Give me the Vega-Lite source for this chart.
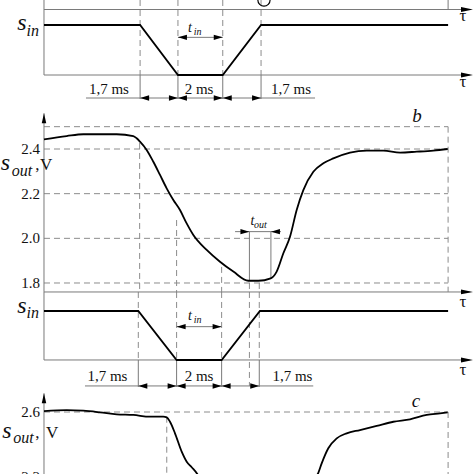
{
  "$schema": "https://vega.github.io/schema/vega-lite/v6.json",
  "width": 474,
  "height": 474,
  "autosize": "none",
  "padding": 0,
  "background": "white",
  "config": {
    "view": {"stroke": null},
    "text": {"font": "Liberation Serif", "color": "#111"}
  },
  "datasets": {
    "a": [
      {"part": "signal", "t": 0, "v": 1}, {"part": "signal", "t": 4.29, "v": 1}, {"part": "signal", "t": 5.98, "v": 0},
      {"part": "signal", "t": 7.98, "v": 0}, {"part": "signal", "t": 9.69, "v": 1}, {"part": "signal", "t": 18.04, "v": 1},
      {"part": "guide", "t": 4.29, "v": 1.5, "v2": 0}, {"part": "guide", "t": 5.98, "v": 1.5, "v2": 0},
      {"part": "guide", "t": 7.98, "v": 1.5, "v2": 0}, {"part": "guide", "t": 9.69, "v": 1.5, "v2": 0},
      {"part": "vline", "t": 0, "v": 1.5, "v2": 0}, {"part": "vline", "t": 18.04, "v": 1.5, "v2": 1.31},
      {"part": "vline", "t": 4.29, "v": 0, "v2": -0.48}, {"part": "vline", "t": 5.98, "v": 0, "v2": -0.48},
      {"part": "vline", "t": 7.98, "v": 0, "v2": -0.48}, {"part": "vline", "t": 9.69, "v": 0, "v2": -0.48},
      {"part": "hline", "t": 0, "t2": 19.0, "v": 1.31}, {"part": "hline", "t": 0, "t2": 19.0, "v": 0},
      {"part": "hline", "t": 1.875, "t2": 12.1, "v": -0.46}, {"part": "hline", "t": 5.98, "t2": 7.98, "v": 0.753},
      {"part": "tauarrow", "t": 19.15, "v": 1.31, "dir": "tau"}, {"part": "tauarrow", "t": 19.15, "v": 0, "dir": "tau"},
      {"part": "arrow", "t": 4.29, "v": -0.46, "dir": "left"}, {"part": "arrow", "t": 5.98, "v": -0.46, "dir": "right"},
      {"part": "arrow", "t": 5.98, "v": -0.46, "dir": "left"}, {"part": "arrow", "t": 7.98, "v": -0.46, "dir": "right"},
      {"part": "arrow", "t": 7.98, "v": -0.46, "dir": "left"}, {"part": "arrow", "t": 9.69, "v": -0.46, "dir": "right"},
      {"part": "arrow", "t": 5.98, "v": 0.753, "dir": "left"}, {"part": "arrow", "t": 7.98, "v": 0.753, "dir": "right"},
      {"part": "ring", "t": 9.82, "v": 1.5},
      {"part": "taulabel", "t": 18.7, "v": 1.08, "label": "τ"}, {"part": "taulabel", "t": 18.7, "v": -0.24, "label": "τ"},
      {"part": "dimlabel", "t": 2.9, "v": -0.37, "label": "1,7 ms"}, {"part": "dimlabel", "t": 6.92, "v": -0.37, "label": "2 ms"},
      {"part": "dimlabel", "t": 11.03, "v": -0.37, "label": "1,7 ms"},
      {"part": "sym", "t": -0.98, "v": 0.9, "label": "s"}, {"part": "sub", "t": -0.5, "v": 0.79, "label": "in"},
      {"part": "tsym", "t": 6.52, "v": 0.86, "label": "t"}, {"part": "tsub", "t": 6.86, "v": 0.8, "label": "in"}
    ],
    "b": [
      {"part": "curve", "t": 0, "v": 2.443}, {"part": "curve", "t": 1.012, "v": 2.458}, {"part": "curve", "t": 1.756, "v": 2.466},
      {"part": "curve", "t": 2.5, "v": 2.466}, {"part": "curve", "t": 3.244, "v": 2.466}, {"part": "curve", "t": 3.988, "v": 2.458},
      {"part": "curve", "t": 4.137, "v": 2.448}, {"part": "curve", "t": 4.286, "v": 2.433}, {"part": "curve", "t": 4.583, "v": 2.396},
      {"part": "curve", "t": 4.881, "v": 2.343}, {"part": "curve", "t": 5.179, "v": 2.284}, {"part": "curve", "t": 5.476, "v": 2.224},
      {"part": "curve", "t": 5.774, "v": 2.172}, {"part": "curve", "t": 6.071, "v": 2.127}, {"part": "curve", "t": 6.369, "v": 2.067},
      {"part": "curve", "t": 6.667, "v": 2.015}, {"part": "curve", "t": 7.262, "v": 1.948}, {"part": "curve", "t": 7.857, "v": 1.895},
      {"part": "curve", "t": 8.452, "v": 1.851}, {"part": "curve", "t": 9.122, "v": 1.81}, {"part": "curve", "t": 9.568, "v": 1.81},
      {"part": "curve", "t": 10.119, "v": 1.821}, {"part": "curve", "t": 10.387, "v": 1.851}, {"part": "curve", "t": 10.685, "v": 1.933},
      {"part": "curve", "t": 10.982, "v": 2.007}, {"part": "curve", "t": 11.28, "v": 2.127}, {"part": "curve", "t": 11.577, "v": 2.216},
      {"part": "curve", "t": 12.024, "v": 2.298}, {"part": "curve", "t": 12.47, "v": 2.336}, {"part": "curve", "t": 12.917, "v": 2.358},
      {"part": "curve", "t": 13.661, "v": 2.384}, {"part": "curve", "t": 14.405, "v": 2.393}, {"part": "curve", "t": 15.149, "v": 2.393},
      {"part": "curve", "t": 15.893, "v": 2.384}, {"part": "curve", "t": 16.637, "v": 2.388}, {"part": "curve", "t": 17.381, "v": 2.393},
      {"part": "curve", "t": 18.021, "v": 2.4},
      {"part": "grid", "t": 0, "t2": 18.04, "v": 2.5}, {"part": "grid", "t": 0, "t2": 18.04, "v": 2.4},
      {"part": "grid", "t": 0, "t2": 18.04, "v": 2.2}, {"part": "grid", "t": 0, "t2": 18.04, "v": 2.0},
      {"part": "grid", "t": 0, "t2": 18.04, "v": 1.8},
      {"part": "guide", "t": 4.27, "v": 2.427, "v2": 1.76}, {"part": "guide", "t": 5.92, "v": 2.082, "v2": 1.76},
      {"part": "guide", "t": 7.93, "v": 1.872, "v2": 1.76}, {"part": "guide", "t": 9.17, "v": 1.8, "v2": 1.76},
      {"part": "guide", "t": 9.61, "v": 1.8, "v2": 1.76}, {"part": "guide", "t": 18.04, "v": 2.5, "v2": 1.76},
      {"part": "vline", "t": 0, "v": 2.56, "v2": 1.76}, {"part": "vline", "t": 9.17, "v": 2.03, "v2": 1.811},
      {"part": "vline", "t": 10.13, "v": 2.03, "v2": 1.822},
      {"part": "hline", "t": 8.53, "t2": 10.58, "v": 2.03},
      {"part": "arrow", "t": 9.17, "v": 2.03, "dir": "right"}, {"part": "arrow", "t": 10.13, "v": 2.03, "dir": "left"},
      {"part": "axisarrow", "t": 0, "v": 2.56, "dir": "up"},
      {"part": "tick", "t": -0.18, "v": 2.4, "label": "2.4"}, {"part": "tick", "t": -0.18, "v": 2.2, "label": "2.2"},
      {"part": "tick", "t": -0.18, "v": 2.0, "label": "2.0"}, {"part": "tick", "t": -0.18, "v": 1.8, "label": "1.8"},
      {"part": "letter", "t": 16.65, "v": 2.521, "label": "b"},
      {"part": "sym", "t": -1.72, "v": 2.308, "label": "s"}, {"part": "sub", "t": -0.98, "v": 2.277, "label": "out"},
      {"part": "unit", "t": -0.3, "v": 2.308, "label": ","}, {"part": "unit", "t": 0.1, "v": 2.308, "label": "V"},
      {"part": "tsym", "t": 9.31, "v": 2.06, "label": "t"}, {"part": "tsub", "t": 9.66, "v": 2.046, "label": "out"}
    ],
    "m": [
      {"part": "signal", "t": 0, "v": 1}, {"part": "signal", "t": 4.21, "v": 1}, {"part": "signal", "t": 5.92, "v": 0},
      {"part": "signal", "t": 7.93, "v": 0}, {"part": "signal", "t": 9.64, "v": 1}, {"part": "signal", "t": 18.04, "v": 1},
      {"part": "guide", "t": 4.21, "v": 1.388, "v2": 0}, {"part": "guide", "t": 5.92, "v": 1.388, "v2": 0},
      {"part": "guide", "t": 7.93, "v": 1.388, "v2": 0}, {"part": "guide", "t": 9.17, "v": 1.388, "v2": -0.53},
      {"part": "guide", "t": 9.61, "v": 1.388, "v2": 0},
      {"part": "vline", "t": 0, "v": 1.388, "v2": 0}, {"part": "vline", "t": 4.21, "v": 0, "v2": -0.55},
      {"part": "vline", "t": 5.92, "v": 0, "v2": -0.55}, {"part": "vline", "t": 7.93, "v": 0, "v2": -0.55},
      {"part": "vline", "t": 9.61, "v": 0, "v2": -0.55},
      {"part": "hline", "t": 0, "t2": 19.0, "v": 1.388}, {"part": "hline", "t": 0, "t2": 19.0, "v": 0},
      {"part": "hline", "t": 1.83, "t2": 12.02, "v": -0.53}, {"part": "hline", "t": 5.92, "t2": 7.93, "v": 0.68},
      {"part": "tauarrow", "t": 19.15, "v": 1.388, "dir": "tau"}, {"part": "tauarrow", "t": 19.15, "v": 0, "dir": "tau"},
      {"part": "arrow", "t": 4.21, "v": -0.53, "dir": "left"}, {"part": "arrow", "t": 5.92, "v": -0.53, "dir": "right"},
      {"part": "arrow", "t": 5.92, "v": -0.53, "dir": "left"}, {"part": "arrow", "t": 7.93, "v": -0.53, "dir": "right"},
      {"part": "arrow", "t": 7.93, "v": -0.53, "dir": "left"}, {"part": "arrow", "t": 9.61, "v": -0.53, "dir": "right"},
      {"part": "arrow", "t": 5.92, "v": 0.68, "dir": "left"}, {"part": "arrow", "t": 7.93, "v": 0.68, "dir": "right"},
      {"part": "taulabel", "t": 18.7, "v": 1.08, "label": "τ"}, {"part": "taulabel", "t": 18.7, "v": -0.306, "label": "τ"},
      {"part": "dimlabel", "t": 2.83, "v": -0.439, "label": "1,7 ms"}, {"part": "dimlabel", "t": 6.92, "v": -0.439, "label": "2 ms"},
      {"part": "dimlabel", "t": 11.09, "v": -0.439, "label": "1,7 ms"},
      {"part": "sym", "t": -0.98, "v": 0.96, "label": "s"}, {"part": "sub", "t": -0.5, "v": 0.857, "label": "in"},
      {"part": "tsym", "t": 6.52, "v": 0.816, "label": "t"}, {"part": "tsub", "t": 6.86, "v": 0.755, "label": "in"}
    ],
    "c": [
      {"part": "curve", "seg": 1, "t": 0, "v": 2.606}, {"part": "curve", "seg": 1, "t": 1.013, "v": 2.612},
      {"part": "curve", "seg": 1, "t": 1.754, "v": 2.608}, {"part": "curve", "seg": 1, "t": 2.5, "v": 2.598},
      {"part": "curve", "seg": 1, "t": 3.246, "v": 2.586}, {"part": "curve", "seg": 1, "t": 3.987, "v": 2.582},
      {"part": "curve", "seg": 1, "t": 4.732, "v": 2.571}, {"part": "curve", "seg": 1, "t": 5.326, "v": 2.571},
      {"part": "curve", "seg": 1, "t": 5.478, "v": 2.567}, {"part": "curve", "seg": 1, "t": 5.625, "v": 2.54},
      {"part": "curve", "seg": 1, "t": 5.848, "v": 2.469}, {"part": "curve", "seg": 1, "t": 6.147, "v": 2.356},
      {"part": "curve", "seg": 1, "t": 6.371, "v": 2.294}, {"part": "curve", "seg": 1, "t": 6.594, "v": 2.26},
      {"part": "curve", "seg": 1, "t": 6.844, "v": 2.218}, {"part": "curve", "seg": 1, "t": 6.92, "v": 2.2},
      {"part": "curve", "seg": 2, "t": 12.14, "v": 2.2}, {"part": "curve", "seg": 2, "t": 12.246, "v": 2.226},
      {"part": "curve", "seg": 2, "t": 12.397, "v": 2.284}, {"part": "curve", "seg": 2, "t": 12.692, "v": 2.377},
      {"part": "curve", "seg": 2, "t": 13.067, "v": 2.438}, {"part": "curve", "seg": 2, "t": 13.513, "v": 2.469},
      {"part": "curve", "seg": 2, "t": 14.107, "v": 2.489}, {"part": "curve", "seg": 2, "t": 14.853, "v": 2.514},
      {"part": "curve", "seg": 2, "t": 15.594, "v": 2.54}, {"part": "curve", "seg": 2, "t": 16.339, "v": 2.555},
      {"part": "curve", "seg": 2, "t": 17.085, "v": 2.582}, {"part": "curve", "seg": 2, "t": 17.679, "v": 2.592},
      {"part": "curve", "seg": 2, "t": 18.021, "v": 2.598},
      {"part": "grid", "t": 0, "t2": 18.04, "v": 2.6},
      {"part": "guide", "t": 5.48, "v": 2.571, "v2": 2.1}, {"part": "guide", "t": 18.04, "v": 2.6, "v2": 2.1},
      {"part": "vline", "t": 0, "v": 2.715, "v2": 2.1},
      {"part": "axisarrow", "t": 0, "v": 2.715, "dir": "up"},
      {"part": "tick", "t": -0.18, "v": 2.6, "label": "2.6"}, {"part": "tick", "t": -0.18, "v": 2.2, "label": "2.2"},
      {"part": "letter", "t": 16.6, "v": 2.633, "label": "c"},
      {"part": "sym", "t": -1.65, "v": 2.44, "label": "s"}, {"part": "sub", "t": -0.92, "v": 2.409, "label": "out"},
      {"part": "unit", "t": -0.3, "v": 2.44, "label": ","}, {"part": "unit", "t": 0.36, "v": 2.442, "label": "V"}
    ]
  },
  "encoding": {
    "x": {"field": "t", "type": "quantitative", "scale": {"domain": [-1.964, 19.196], "nice": false, "zero": false}, "axis": null}
  },
  "layer": [
    {
      "data": {"name": "a"},
      "encoding": {"y": {"field": "v", "type": "quantitative", "scale": {"domain": [-7.98, 1.5], "nice": false, "zero": false}, "axis": null}},
      "layer": [
        {"transform": [{"filter": "datum.part === 'guide'"}], "mark": {"type": "rule", "color": "#8c8c8c", "strokeWidth": 1, "strokeDash": [6, 4]}, "encoding": {"y2": {"field": "v2"}}},
        {"transform": [{"filter": "datum.part === 'vline'"}], "mark": {"type": "rule", "color": "#7a7a7a", "strokeWidth": 1}, "encoding": {"y2": {"field": "v2"}}},
        {"transform": [{"filter": "datum.part === 'hline'"}], "mark": {"type": "rule", "color": "#7a7a7a", "strokeWidth": 1}, "encoding": {"x2": {"field": "t2"}}},
        {"transform": [{"filter": "datum.part === 'signal'"}], "mark": {"type": "line", "color": "#000", "strokeWidth": 1.8}, "encoding": {}},
        {"transform": [{"filter": "datum.part === 'arrow'"}], "mark": {"type": "point", "filled": true, "opacity": 1, "color": "#000", "size": 81},
         "encoding": {"shape": {"field": "dir", "type": "nominal", "legend": null, "scale": {"domain": ["left", "right", "up", "tau"], "range": ["M0,0L2,-0.6L2,0.6Z", "M0,0L-2,-0.6L-2,0.6Z", "M0,0L-0.45,2L0.45,2Z", "M0,0L-2,-0.4L-2,0.4Z"]}}}},
        {"transform": [{"filter": "datum.part === 'tauarrow'"}], "mark": {"type": "point", "filled": true, "opacity": 1, "color": "#000", "size": 144},
         "encoding": {"shape": {"field": "dir", "type": "nominal", "legend": null, "scale": {"domain": ["left", "right", "up", "tau"], "range": ["M0,0L2,-0.6L2,0.6Z", "M0,0L-2,-0.6L-2,0.6Z", "M0,0L-0.45,2L0.45,2Z", "M0,0L-2,-0.4L-2,0.4Z"]}}}},
        {"transform": [{"filter": "datum.part === 'ring'"}], "mark": {"type": "point", "shape": "circle", "filled": false, "opacity": 1, "color": "#000", "strokeWidth": 1.2, "size": 150}},
        {"transform": [{"filter": "datum.part === 'taulabel'"}], "mark": {"type": "text", "font": "Liberation Serif", "fontSize": 17, "align": "center", "baseline": "alphabetic"}, "encoding": {"text": {"field": "label"}}},
        {"transform": [{"filter": "datum.part === 'dimlabel'"}], "mark": {"type": "text", "font": "Liberation Serif", "fontSize": 15, "align": "center", "baseline": "alphabetic"}, "encoding": {"text": {"field": "label"}}},
        {"transform": [{"filter": "datum.part === 'sym'"}], "mark": {"type": "text", "font": "Liberation Serif", "fontSize": 24, "fontStyle": "italic", "align": "center", "baseline": "alphabetic"}, "encoding": {"text": {"field": "label"}}},
        {"transform": [{"filter": "datum.part === 'sub'"}], "mark": {"type": "text", "font": "Liberation Serif", "fontSize": 16, "fontStyle": "italic", "align": "center", "baseline": "alphabetic"}, "encoding": {"text": {"field": "label"}}},
        {"transform": [{"filter": "datum.part === 'tsym'"}], "mark": {"type": "text", "font": "Liberation Serif", "fontSize": 14, "fontStyle": "italic", "align": "center", "baseline": "alphabetic"}, "encoding": {"text": {"field": "label"}}},
        {"transform": [{"filter": "datum.part === 'tsub'"}], "mark": {"type": "text", "font": "Liberation Serif", "fontSize": 10, "fontStyle": "italic", "align": "center", "baseline": "alphabetic"}, "encoding": {"text": {"field": "label"}}}
      ]
    },
    {
      "data": {"name": "b"},
      "encoding": {"y": {"field": "v", "type": "quantitative", "scale": {"domain": [0.9446, 3.0673], "nice": false, "zero": false}, "axis": null}},
      "layer": [
        {"transform": [{"filter": "datum.part === 'grid'"}], "mark": {"type": "rule", "color": "#8c8c8c", "strokeWidth": 1, "strokeDash": [6, 4]}, "encoding": {"x2": {"field": "t2"}}},
        {"transform": [{"filter": "datum.part === 'guide'"}], "mark": {"type": "rule", "color": "#8c8c8c", "strokeWidth": 1, "strokeDash": [6, 4]}, "encoding": {"y2": {"field": "v2"}}},
        {"transform": [{"filter": "datum.part === 'vline'"}], "mark": {"type": "rule", "color": "#7a7a7a", "strokeWidth": 1}, "encoding": {"y2": {"field": "v2"}}},
        {"transform": [{"filter": "datum.part === 'hline'"}], "mark": {"type": "rule", "color": "#7a7a7a", "strokeWidth": 1}, "encoding": {"x2": {"field": "t2"}}},
        {"transform": [{"filter": "datum.part === 'curve'"}], "mark": {"type": "line", "color": "#000", "strokeWidth": 1.8, "interpolate": "monotone"}, "encoding": {}},
        {"transform": [{"filter": "datum.part === 'arrow'"}], "mark": {"type": "point", "filled": true, "opacity": 1, "color": "#000", "size": 81},
         "encoding": {"shape": {"field": "dir", "type": "nominal", "legend": null, "scale": {"domain": ["left", "right", "up", "tau"], "range": ["M0,0L2,-0.6L2,0.6Z", "M0,0L-2,-0.6L-2,0.6Z", "M0,0L-0.45,2L0.45,2Z", "M0,0L-2,-0.4L-2,0.4Z"]}}}},
        {"transform": [{"filter": "datum.part === 'axisarrow'"}], "mark": {"type": "point", "filled": true, "opacity": 1, "color": "#000", "size": 100},
         "encoding": {"shape": {"field": "dir", "type": "nominal", "legend": null, "scale": {"domain": ["left", "right", "up", "tau"], "range": ["M0,0L2,-0.6L2,0.6Z", "M0,0L-2,-0.6L-2,0.6Z", "M0,0L-0.45,2L0.45,2Z", "M0,0L-2,-0.4L-2,0.4Z"]}}}},
        {"transform": [{"filter": "datum.part === 'tick'"}], "mark": {"type": "text", "font": "Liberation Serif", "fontSize": 15, "align": "right", "baseline": "middle"}, "encoding": {"text": {"field": "label"}}},
        {"transform": [{"filter": "datum.part === 'letter'"}], "mark": {"type": "text", "font": "Liberation Serif", "fontSize": 19, "fontStyle": "italic", "align": "center", "baseline": "alphabetic"}, "encoding": {"text": {"field": "label"}}},
        {"transform": [{"filter": "datum.part === 'sym'"}], "mark": {"type": "text", "font": "Liberation Serif", "fontSize": 24, "fontStyle": "italic", "align": "center", "baseline": "alphabetic"}, "encoding": {"text": {"field": "label"}}},
        {"transform": [{"filter": "datum.part === 'sub'"}], "mark": {"type": "text", "font": "Liberation Serif", "fontSize": 16, "fontStyle": "italic", "align": "center", "baseline": "alphabetic"}, "encoding": {"text": {"field": "label"}}},
        {"transform": [{"filter": "datum.part === 'unit'"}], "mark": {"type": "text", "font": "Liberation Serif", "fontSize": 17, "align": "center", "baseline": "alphabetic"}, "encoding": {"text": {"field": "label"}}},
        {"transform": [{"filter": "datum.part === 'tsym'"}], "mark": {"type": "text", "font": "Liberation Serif", "fontSize": 14, "fontStyle": "italic", "align": "center", "baseline": "alphabetic"}, "encoding": {"text": {"field": "label"}}},
        {"transform": [{"filter": "datum.part === 'tsub'"}], "mark": {"type": "text", "font": "Liberation Serif", "fontSize": 10, "fontStyle": "italic", "align": "center", "baseline": "alphabetic"}, "encoding": {"text": {"field": "label"}}}
      ]
    },
    {
      "data": {"name": "m"},
      "encoding": {"y": {"field": "v", "type": "quantitative", "scale": {"domain": [-2.327, 7.347], "nice": false, "zero": false}, "axis": null}},
      "layer": [
        {"transform": [{"filter": "datum.part === 'guide'"}], "mark": {"type": "rule", "color": "#8c8c8c", "strokeWidth": 1, "strokeDash": [6, 4]}, "encoding": {"y2": {"field": "v2"}}},
        {"transform": [{"filter": "datum.part === 'vline'"}], "mark": {"type": "rule", "color": "#7a7a7a", "strokeWidth": 1}, "encoding": {"y2": {"field": "v2"}}},
        {"transform": [{"filter": "datum.part === 'hline'"}], "mark": {"type": "rule", "color": "#7a7a7a", "strokeWidth": 1}, "encoding": {"x2": {"field": "t2"}}},
        {"transform": [{"filter": "datum.part === 'signal'"}], "mark": {"type": "line", "color": "#000", "strokeWidth": 1.8}, "encoding": {}},
        {"transform": [{"filter": "datum.part === 'arrow'"}], "mark": {"type": "point", "filled": true, "opacity": 1, "color": "#000", "size": 81},
         "encoding": {"shape": {"field": "dir", "type": "nominal", "legend": null, "scale": {"domain": ["left", "right", "up", "tau"], "range": ["M0,0L2,-0.6L2,0.6Z", "M0,0L-2,-0.6L-2,0.6Z", "M0,0L-0.45,2L0.45,2Z", "M0,0L-2,-0.4L-2,0.4Z"]}}}},
        {"transform": [{"filter": "datum.part === 'tauarrow'"}], "mark": {"type": "point", "filled": true, "opacity": 1, "color": "#000", "size": 144},
         "encoding": {"shape": {"field": "dir", "type": "nominal", "legend": null, "scale": {"domain": ["left", "right", "up", "tau"], "range": ["M0,0L2,-0.6L2,0.6Z", "M0,0L-2,-0.6L-2,0.6Z", "M0,0L-0.45,2L0.45,2Z", "M0,0L-2,-0.4L-2,0.4Z"]}}}},
        {"transform": [{"filter": "datum.part === 'taulabel'"}], "mark": {"type": "text", "font": "Liberation Serif", "fontSize": 17, "align": "center", "baseline": "alphabetic"}, "encoding": {"text": {"field": "label"}}},
        {"transform": [{"filter": "datum.part === 'dimlabel'"}], "mark": {"type": "text", "font": "Liberation Serif", "fontSize": 15, "align": "center", "baseline": "alphabetic"}, "encoding": {"text": {"field": "label"}}},
        {"transform": [{"filter": "datum.part === 'sym'"}], "mark": {"type": "text", "font": "Liberation Serif", "fontSize": 24, "fontStyle": "italic", "align": "center", "baseline": "alphabetic"}, "encoding": {"text": {"field": "label"}}},
        {"transform": [{"filter": "datum.part === 'sub'"}], "mark": {"type": "text", "font": "Liberation Serif", "fontSize": 16, "fontStyle": "italic", "align": "center", "baseline": "alphabetic"}, "encoding": {"text": {"field": "label"}}},
        {"transform": [{"filter": "datum.part === 'tsym'"}], "mark": {"type": "text", "font": "Liberation Serif", "fontSize": 14, "fontStyle": "italic", "align": "center", "baseline": "alphabetic"}, "encoding": {"text": {"field": "label"}}},
        {"transform": [{"filter": "datum.part === 'tsub'"}], "mark": {"type": "text", "font": "Liberation Serif", "fontSize": 10, "fontStyle": "italic", "align": "center", "baseline": "alphabetic"}, "encoding": {"text": {"field": "label"}}}
      ]
    },
    {
      "data": {"name": "c"},
      "encoding": {"y": {"field": "v", "type": "quantitative", "scale": {"domain": [2.2185, 5.1354], "nice": false, "zero": false}, "axis": null}},
      "layer": [
        {"transform": [{"filter": "datum.part === 'grid'"}], "mark": {"type": "rule", "color": "#8c8c8c", "strokeWidth": 1, "strokeDash": [6, 4]}, "encoding": {"x2": {"field": "t2"}}},
        {"transform": [{"filter": "datum.part === 'guide'"}], "mark": {"type": "rule", "color": "#8c8c8c", "strokeWidth": 1, "strokeDash": [6, 4]}, "encoding": {"y2": {"field": "v2"}}},
        {"transform": [{"filter": "datum.part === 'vline'"}], "mark": {"type": "rule", "color": "#7a7a7a", "strokeWidth": 1}, "encoding": {"y2": {"field": "v2"}}},
        {"transform": [{"filter": "datum.part === 'curve'"}], "mark": {"type": "line", "color": "#000", "strokeWidth": 1.8, "interpolate": "monotone"}, "encoding": {"detail": {"field": "seg", "type": "nominal"}}},
        {"transform": [{"filter": "datum.part === 'axisarrow'"}], "mark": {"type": "point", "filled": true, "opacity": 1, "color": "#000", "size": 100},
         "encoding": {"shape": {"field": "dir", "type": "nominal", "legend": null, "scale": {"domain": ["left", "right", "up", "tau"], "range": ["M0,0L2,-0.6L2,0.6Z", "M0,0L-2,-0.6L-2,0.6Z", "M0,0L-0.45,2L0.45,2Z", "M0,0L-2,-0.4L-2,0.4Z"]}}}},
        {"transform": [{"filter": "datum.part === 'tick'"}], "mark": {"type": "text", "font": "Liberation Serif", "fontSize": 15, "align": "right", "baseline": "middle"}, "encoding": {"text": {"field": "label"}}},
        {"transform": [{"filter": "datum.part === 'letter'"}], "mark": {"type": "text", "font": "Liberation Serif", "fontSize": 19, "fontStyle": "italic", "align": "center", "baseline": "alphabetic"}, "encoding": {"text": {"field": "label"}}},
        {"transform": [{"filter": "datum.part === 'sym'"}], "mark": {"type": "text", "font": "Liberation Serif", "fontSize": 24, "fontStyle": "italic", "align": "center", "baseline": "alphabetic"}, "encoding": {"text": {"field": "label"}}},
        {"transform": [{"filter": "datum.part === 'sub'"}], "mark": {"type": "text", "font": "Liberation Serif", "fontSize": 16, "fontStyle": "italic", "align": "center", "baseline": "alphabetic"}, "encoding": {"text": {"field": "label"}}},
        {"transform": [{"filter": "datum.part === 'unit'"}], "mark": {"type": "text", "font": "Liberation Serif", "fontSize": 17, "align": "center", "baseline": "alphabetic"}, "encoding": {"text": {"field": "label"}}}
      ]
    }
  ],
  "resolve": {"scale": {"y": "independent"}}
}
